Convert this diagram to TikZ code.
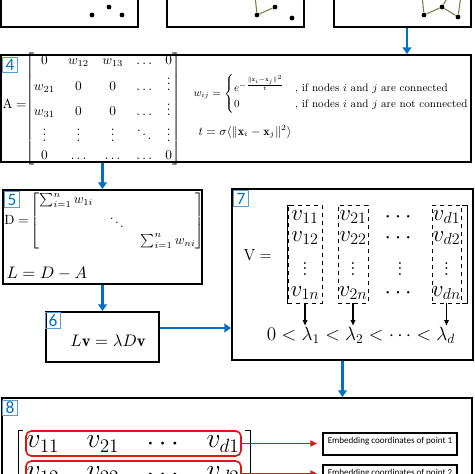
\documentclass[tikz,border=0pt]{standalone}
\usepackage{amsmath}
\usepackage{graphicx}
\usepackage{fontspec}
\newfontfamily\calibri{Carlito}
\usetikzlibrary{arrows.meta,fit,calc}

\tikzset{every picture/.style={line width=0.75pt}}
\tikzset{
  panel/.style={draw, line width=1.5pt, inner sep=0pt},
  steptag/.style={draw={rgb,255:red,91;green,155;blue,213}, line width=0.6pt, text={rgb,255:red,0;green,112;blue,192}, font=\calibri\fontsize{13}{13}\selectfont, minimum size=11.5pt, inner sep=0pt},
  flowarrow/.style={color={rgb,255:red,0;green,112;blue,192}, line width=1.6pt, -{Triangle[length=5pt,width=6.5pt]}},
  vtx/.style={circle, fill, inner sep=0pt, minimum size=3.6pt},
  edgeline/.style={color={rgb,255:red,118;green,128;blue,64}, line width=0.8pt},
  colbox/.style={draw, dashed, line width=0.6pt, inner sep=0pt},
  pointer/.style={line width=0.8pt, -{Triangle[length=4pt,width=3.5pt]}},
  rowbox/.style={draw={rgb,255:red,225;green,20;blue,20}, rounded corners=4pt, line width=1.2pt, inner sep=0pt},
  redarrow/.style={color={rgb,255:red,225;green,20;blue,20}, line width=1.2pt, -{Triangle[length=5pt,width=4.5pt]}, shorten >=4pt},
  embbox/.style={draw, line width=0.9pt, inner sep=0pt, font=\calibri\fontsize{6.8}{8}\selectfont},
}

\begin{document}
\begin{tikzpicture}[x=0.75pt,y=0.75pt,yscale=-1,xscale=1]
%set diagram to 474 x 474
\clip (0,0) rectangle (474,474);

%Shape: Rectangle
\node (box1) [panel, fit={(1,-40) (138,27)}] {};
%Shape: Rectangle
\node (box2) [panel, fit={(167,-40) (304,27)}] {};
%Shape: Rectangle
\node (box3) [panel, fit={(334,-40) (471,27)}] {};

%Shape: Circle
\node (p11) [vtx] at (92,15) {};
\node (p12) [vtx] at (109,7) {};
\node (p13) [vtx] at (122,15) {};
%Shape: Circle
\node (p21) [vtx] at (257,15) {};
\node (p22) [vtx] at (275,7) {};
\node (p23) [vtx] at (292,18) {};
\coordinate (q21) at (255,-5);
%Straight Lines
\draw [edgeline] (q21) -- (p21) -- (p22);
%Shape: Circle
\node (p31) [vtx] at (424,15) {};
\node (p32) [vtx] at (442,7) {};
\node (p33) [vtx] at (458,17) {};
\coordinate (q31) at (422,-5);
\coordinate (q32) at (449,-5);
\coordinate (q33) at (461,-5);
%Straight Lines
\draw [edgeline] (q31) -- (p31) -- (p32) -- (p33) -- (q33);
\draw [edgeline] (p32) -- (q32);

%Shape: Rectangle
\node (box4) [panel, fit={(1,55) (471,162)}] {};
\draw (10,65) node (tag4) [steptag] {4};
% Text Node
\draw (1,104) node (lblA) [anchor=west][inner sep=0.75pt] {$\mathrm{A} =$};
% Text Node
\draw (103,108.5) node (matA) [inner sep=0pt] {\renewcommand{\arraystretch}{1.13}$\begin{bmatrix}
0 & w_{12} & w_{13} & \ldots & 0\\
w_{21} & 0 & 0 & \ldots & \vdots\\
w_{31} & 0 & 0 & \ldots & \vdots\\
\vdots & \vdots & \vdots & \ddots & \vdots\\
0 & \ldots & \ldots & \ldots & 0
\end{bmatrix}$};
% Text Node
\draw (192,94) node (wij) [anchor=west][inner sep=0.75pt] {\scalebox{0.9}{\small $w_{ij}=\begin{cases}
e^{-\frac{\|\mathbf{x}_i-\mathbf{x}_j\|^2}{t}} & \text{, if nodes $i$ and $j$ are connected}\\
0 & \text{, if nodes $i$ and $j$ are not connected}
\end{cases}$}};
% Text Node
\draw (197,132) node (tdef) [anchor=west][inner sep=0.75pt] {\small $t=\sigma\langle\|\mathbf{x}_i-\mathbf{x}_j\|^2\rangle$};

%Straight Lines
\coordinate (a3) at ($(box3.south)+(4.5,0)$);
\draw [flowarrow] (a3) -- (a3 |- box4.north);

%Shape: Rectangle
\node (box5) [panel, fit={(3,190) (202,284)}] {};
\draw (12,199.5) node (tag5) [steptag] {5};
% Text Node
\draw (3,220) node (lblD) [anchor=west][inner sep=0.75pt] {$\mathrm{D} =$};
% Text Node
\draw (117.5,221) node (matD) [inner sep=0pt] {\setlength{\arraycolsep}{6pt}$\begin{bmatrix}
\sum_{i=1}^n w_{1i} & & \\
& \ddots & \\
& & \sum_{i=1}^n w_{ni}
\end{bmatrix}$};
% Text Node
\draw (5,273) node (lap) [anchor=west][inner sep=0.75pt] {\scalebox{1.25}{$L = D - A$}};

%Straight Lines
\draw [flowarrow] (box4.south -| box5.north) -- (box5.north);

%Shape: Rectangle
\node (box6) [panel, fit={(46,312) (159,362)}] {};
\draw (53,320.5) node (tag6) [steptag] {6};
% Text Node
\draw (108,341) node (eig) [inner sep=0.75pt] {\scalebox{1.25}{$L\mathbf{v}=\lambda D\mathbf{v}$}};

%Straight Lines
\draw [flowarrow] (box5.south) -- (box6.north);

%Shape: Rectangle
\node (box7) [panel, fit={(232,189) (473,360)}] {};
\draw (241,198.5) node (tag7) [steptag] {7};
% Text Node
\draw (242,255) node (lblV) [anchor=west][inner sep=0.75pt] {\large $\mathrm{V} =$};
%Shape: Bracket
\draw (292,205) -- (287,205) -- (287,303) -- (292,303);
\draw (462,205) -- (467,205) -- (467,303) -- (462,303);
% Text Node
\draw (305,217) node (v11) [inner sep=0.75pt] {\LARGE $v_{11}$};
\draw (353,217) node (v21) [inner sep=0.75pt] {\LARGE $v_{21}$};
\draw (400,217) node (vc1) [inner sep=0.75pt] {\LARGE $\cdots$};
\draw (446.5,217) node (vd1) [inner sep=0.75pt] {\LARGE $v_{d1}$};
\draw (305,238) node (v12) [inner sep=0.75pt] {\LARGE $v_{12}$};
\draw (353,238) node (v22) [inner sep=0.75pt] {\LARGE $v_{22}$};
\draw (400,238) node (vc2) [inner sep=0.75pt] {\LARGE $\cdots$};
\draw (446.5,238) node (vd2) [inner sep=0.75pt] {\LARGE $v_{d2}$};
\draw (305,265) node (vv1) [inner sep=0.75pt] {\LARGE $\vdots$};
\draw (353,265) node (vv2) [inner sep=0.75pt] {\LARGE $\vdots$};
\draw (400,265) node (vvc) [inner sep=0.75pt] {\LARGE $\vdots$};
\draw (446.5,265) node (vvd) [inner sep=0.75pt] {\LARGE $\vdots$};
\draw (305,293) node (v1n) [inner sep=0.75pt] {\LARGE $v_{1n}$};
\draw (353,293) node (v2n) [inner sep=0.75pt] {\LARGE $v_{2n}$};
\draw (400,293) node (vcn) [inner sep=0.75pt] {\LARGE $\cdots$};
\draw (446.5,293) node (vdn) [inner sep=0.75pt] {\LARGE $v_{dn}$};
%Shape: Rectangle
\node (col1) [colbox, fit={(288,205) (322,303)}] {};
\node (col2) [colbox, fit={(338,205) (368,303)}] {};
\node (cold) [colbox, fit={(432,205) (461,303)}] {};
% Text Node
\draw (361,335) node (lam) [inner sep=0.75pt] {\Large $0<\lambda_1<\lambda_2<\cdots<\lambda_d$};
%Straight Lines
\draw [pointer] (col1.south) -- (col1.south |- lam.north);
\draw [pointer] (col2.south) -- (col2.south |- lam.north);
\draw [pointer] (cold.south) -- (cold.south |- lam.north);

%Straight Lines
\coordinate (a6) at ($(box6.east)+(0,-9)$);
\draw [flowarrow] (a6) -- (a6 -| box7.west);

%Shape: Rectangle
\node (box8) [panel, fit={(2,398) (472,520)}] {};
\draw (10,408) node (tag8) [steptag] {8};
%Shape: Bracket
\draw (23,430) -- (18,430) -- (18,480);
\draw (245,430) -- (250,430) -- (250,480);
%Shape: Rectangle
\node (row1) [rowbox, fit={(26,431) (241,456)}] {};
\node (row2) [rowbox, fit={(26,461) (241,486)}] {};
% Text Node
\draw (43,444) node (w11) [inner sep=0.75pt] {\huge $v_{11}$};
\draw (103,444) node (w21) [inner sep=0.75pt] {\huge $v_{21}$};
\draw (165,444) node (wc1) [inner sep=0.75pt] {\huge $\cdots$};
\draw (223,444) node (wd1) [inner sep=0.75pt] {\huge $v_{d1}$};
\draw (43,475) node (w12) [inner sep=0.75pt] {\huge $v_{12}$};
\draw (103,475) node (w22) [inner sep=0.75pt] {\huge $v_{22}$};
\draw (165,475) node (wc2) [inner sep=0.75pt] {\huge $\cdots$};
\draw (223,475) node (wd2) [inner sep=0.75pt] {\huge $v_{d2}$};
% Text Node
\node (emb1) [embbox, fit={(323,433) (457,455)}] {Embedding coordinates of point 1};
\node (emb2) [embbox, fit={(323,465) (457,487)}] {Embedding coordinates of point 2};
%Straight Lines
\draw [redarrow] (row1.east) -- (row1.east -| emb1.west);
\draw [redarrow] (row2.east) -- (row2.east -| emb2.west);

%Straight Lines
\coordinate (a7) at ($(box7.south)+(-10,0)$);
\draw [flowarrow] (a7) -- (a7 |- box8.north);

\end{tikzpicture}
\end{document}
